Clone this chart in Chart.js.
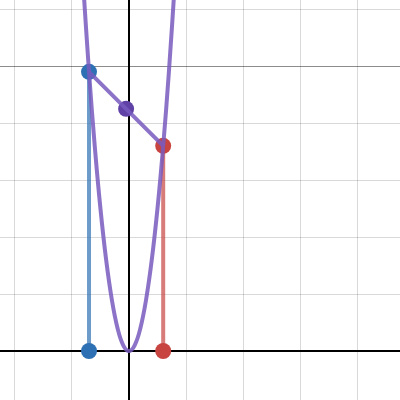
<!DOCTYPE html>
<html><head><meta charset="utf-8">
<script src="https://cdn.jsdelivr.net/npm/chart.js@4"></script>
<style>html,body{margin:0;padding:0;background:#fff;overflow:hidden}#c{position:absolute;left:-8px;top:-8px}</style>
</head><body>
<canvas id="c" width="416" height="416"></canvas>
<script>
const curveX = [-0.8,-0.7,-0.6,-0.5,-0.4,-0.3,-0.2,-0.1,0,0.1,0.2,0.3,0.4,0.5,0.6,0.7,0.8];
const curveY = [6.4,4.9,3.6,2.5,1.6,0.9,0.4,0.1,0,0.1,0.4,0.9,1.6,2.5,3.6,4.9,6.4];
const bluePt = [-0.7, 4.9];
const redPt = [0.6, 3.6];
const midPt = [-0.05, 4.25];

const pts = (xs, ys) => xs.map((x, i) => ({x, y: ys[i]}));
new Chart(document.getElementById('c'), {
  type: 'scatter',
  data: { datasets: [
    {data: pts(curveX, curveY), showLine: true, tension: 0.4, borderColor: 'rgba(120,90,190,0.85)', borderWidth: 4, pointRadius: 0},
    {data: [{x: bluePt[0], y: 0}, {x: bluePt[0], y: bluePt[1]}], showLine: true, borderColor: 'rgba(45,112,179,0.7)', borderWidth: 4, pointRadius: 0},
    {data: [{x: redPt[0], y: 0}, {x: redPt[0], y: redPt[1]}], showLine: true, borderColor: 'rgba(199,68,64,0.7)', borderWidth: 4, pointRadius: 0},
    {data: [{x: bluePt[0], y: bluePt[1]}, {x: midPt[0], y: midPt[1]}, {x: redPt[0], y: redPt[1]}], showLine: true, borderColor: 'rgba(120,90,190,0.85)', borderWidth: 4, pointRadius: 0},
    {data: [{x: bluePt[0], y: 0}, {x: bluePt[0], y: bluePt[1]}], pointRadius: 8, backgroundColor: '#2d70b3', borderWidth: 0},
    {data: [{x: redPt[0], y: 0}, {x: redPt[0], y: redPt[1]}], pointRadius: 8, backgroundColor: '#c74440', borderWidth: 0},
    {data: [{x: midPt[0], y: midPt[1]}], pointRadius: 8, backgroundColor: '#6042a6', borderWidth: 0}
  ]},
  options: {
    responsive: false, animation: false,
    layout: {padding: 0},
    plugins: {legend: {display: false}, tooltip: {enabled: false}},
    scales: {
      x: {type: 'linear', min: -2.26, max: 4.75, afterBuildTicks: a => { a.ticks = [-2,-1,0,1,2,3,4].map(v => ({value: v})); },
        ticks: {display: false}, border: {display: false},
        grid: {drawTicks: false, color: c => c.tick.value === 0 ? '#000' : 'rgba(0,0,0,0.15)', lineWidth: c => c.tick.value === 0 ? 2 : 1}},
      y: {type: 'linear', min: -0.86, max: 6.16, afterBuildTicks: a => { a.ticks = [0,1,2,3,4,5,6].map(v => ({value: v})); },
        ticks: {display: false}, border: {display: false},
        grid: {drawTicks: false, color: c => c.tick.value === 0 ? '#000' : (c.tick.value === 5 ? 'rgba(0,0,0,0.45)' : 'rgba(0,0,0,0.15)'), lineWidth: c => c.tick.value === 0 ? 2 : 1}}
    }
  }
});
</script>
</body></html>
